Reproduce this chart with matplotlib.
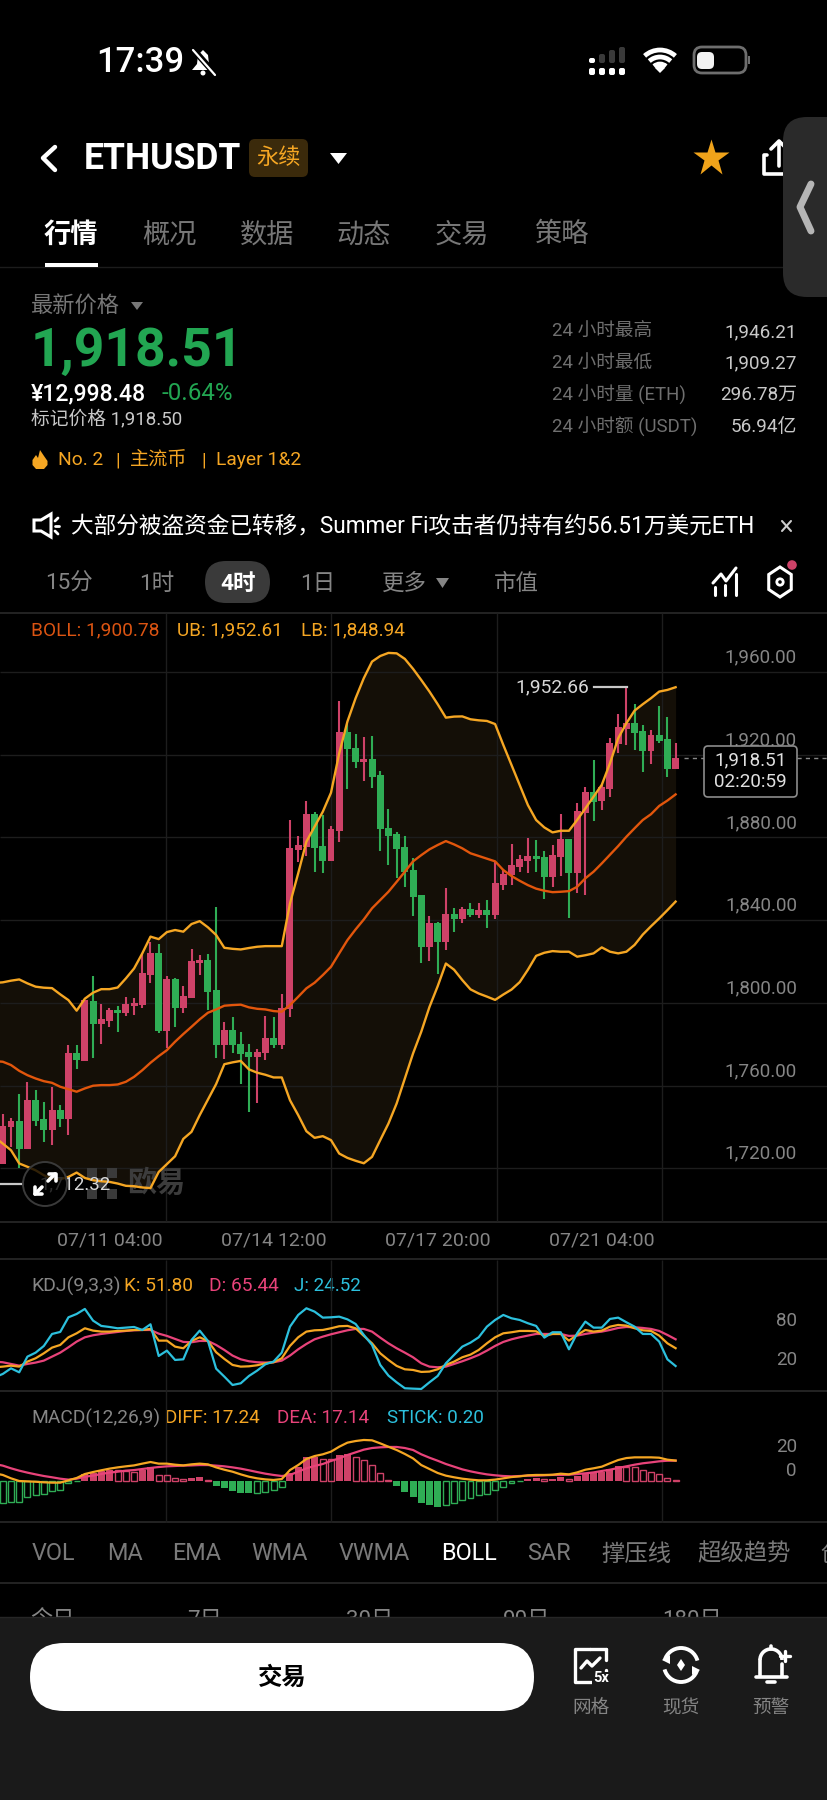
import numpy as np
import matplotlib
matplotlib.use('Agg')
import matplotlib.pyplot as plt
from matplotlib.patches import FancyBboxPatch, Arc, Circle, Polygon, Rectangle

plt.rcParams['font.family'] = ['Roboto', 'Noto Sans CJK SC', 'DejaVu Sans']

# velas 4h
open_ = [1722, 1739.7, 1743, 1729.4, 1752.9, 1743.7, 1738.4, 1748.2, 1743.9, 1775.8, 1772, 1801, 1789.7, 1791.3, 1796.3, 1794.9, 1798.6,
         1798.9, 1813.4, 1824, 1786.5, 1811.3, 1797.4, 1802.1, 1819.4, 1820.8, 1806.1, 1779.5, 1787, 1780.3, 1776.3, 1773.7, 1775.5,
         1783.2, 1779.5, 1796.8, 1873.9, 1875.3, 1891.3, 1875.8, 1868.7, 1883.2, 1931, 1923.4, 1916.5, 1918.1, 1910.2, 1884.6, 1881.6,
         1875.2, 1864.2, 1852.3, 1826.9, 1838.5, 1829.4, 1842.9, 1840.5, 1845.3, 1842.6, 1844.8, 1842.6, 1856.8, 1861.6, 1865.8, 1868.5,
         1870.8, 1870.5, 1861, 1870.6, 1879.2, 1862.6, 1891.9, 1901.8, 1897.6, 1903.3, 1925.1, 1932.3, 1935.2, 1931.3, 1922, 1929.4,
         1927.6, 1913.1]
high = [1746, 1744.5, 1755.7, 1761.8, 1757.8, 1751.8, 1759.2, 1750.5, 1779.5, 1779.5, 1801.3, 1812.8, 1799.2, 1797.4, 1798.4, 1802.6, 1802.4,
        1823.4, 1829.2, 1828.4, 1812.9, 1812.1, 1808.2, 1825.8, 1823.1, 1823.4, 1846.2, 1790.7, 1792.9, 1785.8, 1779.9, 1777.6, 1793.7,
        1792.9, 1804.4, 1888.4, 1880.6, 1897.7, 1892.4, 1890.8, 1885.6, 1945.8, 1935, 1929.8, 1928.4, 1929.2, 1912.3, 1893.6, 1882.4,
        1880.8, 1870.2, 1852.3, 1842.1, 1839.2, 1855.5, 1845.8, 1846.1, 1848.5, 1848.2, 1849.7, 1868.2, 1864.7, 1876.8, 1871.3, 1879.7,
        1878.7, 1873.4, 1876.3, 1891.3, 1879.2, 1896.8, 1904.5, 1917.5, 1906, 1927.9, 1939.7, 1952.66, 1944.4, 1934.4, 1931.8, 1943.4,
        1938.1, 1925.5]
low = [1722, 1730.3, 1720.3, 1729.4, 1740.3, 1732.6, 1731.1, 1740, 1736, 1767.8, 1772, 1773.4, 1780, 1788.4, 1785.8, 1793.7, 1794,
       1797.6, 1809.7, 1785.2, 1778.2, 1788.2, 1795.2, 1802.1, 1813.4, 1796.3, 1773.4, 1772.9, 1775.8, 1760.8, 1747.1, 1751.6, 1772.3,
       1778.2, 1777.6, 1793.2, 1868, 1871, 1863.4, 1863, 1868.7, 1878, 1903.2, 1913.7, 1907.3, 1904, 1873.5, 1866.4, 1860.2,
       1856.1, 1842.1, 1819.4, 1820.2, 1814, 1825.5, 1834.2, 1838.4, 1841.3, 1841.1, 1836.3, 1840.3, 1854.5, 1857.1, 1863.2, 1862.9,
       1863.4, 1850.2, 1856.1, 1861.3, 1841, 1852.9, 1852.1, 1888.1, 1893.2, 1899.4, 1920.6, 1924.7, 1922.3, 1911.6, 1915.4, 1925.5,
       1909.4, 1913.1]
close = [1740.5, 1743, 1729.5, 1752.9, 1743, 1738.4, 1748.2, 1743.9, 1775.8, 1772.3, 1801.3, 1789.7, 1792.1, 1796.3, 1794.9, 1799.4, 1800,
         1814.2, 1824, 1786.3, 1811.3, 1797.4, 1803.2, 1820.3, 1820.8, 1805.3, 1779.5, 1787, 1779.5, 1775.2, 1773.6, 1776.3, 1783.2,
         1779.5, 1797.6, 1875, 1876.3, 1891.3, 1875, 1868.7, 1884, 1931, 1922.6, 1916.5, 1918.1, 1909.4, 1883.9, 1880.6, 1874.3,
         1863.3, 1851.3, 1826.9, 1838.5, 1829.4, 1842.9, 1840.5, 1845.5, 1842.6, 1844.8, 1842.6, 1857.7, 1862.1, 1866.8, 1869.5, 1870.8,
         1869.5, 1861, 1871.6, 1879.2, 1862.6, 1892.6, 1901.7, 1897.3, 1904.5, 1925.8, 1933.4, 1935.2, 1930.4, 1922, 1929.5, 1926.8,
         1913.1, 1918.51]

# bandas de Bollinger, la primera entrada es la vela anterior que queda fuera de la pantalla
ub = [1809.6, 1809.9, 1810.7, 1811.3, 1809.4, 1807.8, 1807.3, 1807.1, 1804.1, 1801.3, 1796.2, 1802, 1804.9, 1806.6, 1806.6, 1807.4, 1811.8,
      1816.6, 1823.9, 1832, 1830.8, 1834.2, 1835.2, 1834.4, 1838.1, 1839.5, 1836.5, 1832.8, 1826.6, 1826.1, 1825.8, 1826.5, 1827.1,
      1827.4, 1827.4, 1827.4, 1848, 1862.6, 1877.9, 1885.2, 1892.4, 1901.6, 1920.6, 1936, 1947.3, 1957, 1965, 1967.7, 1969.2, 1969,
      1966.3, 1961.5, 1956.1, 1950.5, 1944.4, 1937.9, 1938.4, 1938.5, 1937.1, 1936.6, 1936.3, 1934.8, 1924.7, 1915, 1905.3, 1895.6,
      1888.4, 1884.8, 1882.4, 1883.2, 1883.2, 1888.4, 1894, 1899.7, 1905.4, 1915.8, 1927.9, 1935.2, 1941.3, 1944.4, 1947.3, 1950.5,
      1951.3, 1952.61]
mid = [1771.8, 1771.5, 1769.9, 1767.1, 1765, 1763.4, 1762.1, 1761.3, 1759.4, 1758.2, 1757, 1758.6, 1759.9, 1760.2, 1760.2, 1760.5, 1761.8,
       1764.2, 1767.4, 1771, 1774.2, 1777.1, 1781.2, 1784.9, 1788.4, 1792, 1795.2, 1796.8, 1798.6, 1798.9, 1799.1, 1797.8, 1797.1,
       1796.8, 1796, 1795.7, 1798.9, 1802.9, 1807, 1809.7, 1813.4, 1817.4, 1823.9, 1830.3, 1835.5, 1840.3, 1845.7, 1849.7, 1853.7, 1858.5,
       1863.4, 1868.4, 1871.4, 1874.2, 1876.3, 1878.2, 1876.6, 1874.7, 1872.3, 1871, 1869.7, 1868.4, 1864.2, 1861.3, 1859, 1856.9,
       1855.2, 1854.2, 1853.5, 1853.7, 1854, 1856.1, 1860.2, 1863.4, 1867.4, 1871.6, 1875.8, 1880.3, 1884.4, 1888.4, 1891.2, 1895.2,
       1897.8, 1900.78]
lb = [1735, 1731.9, 1728.7, 1722.3, 1720.7, 1719, 1716.6, 1715, 1714.7, 1715.8, 1717.9, 1715.3, 1714.2, 1713.7, 1713.4, 1712.6, 1711.5,
      1711.3, 1710.7, 1710.4, 1718.2, 1722, 1725.8, 1734.2, 1737.6, 1745.7, 1753.2, 1760.7, 1770.3, 1771.2, 1771.9, 1767.8, 1766.2,
      1765.2, 1763.9, 1763.9, 1752.9, 1745.7, 1737.9, 1734.7, 1735.5, 1733.6, 1727.1, 1725, 1723.6, 1722.4, 1725.5, 1733.6, 1741.6, 1751.3,
      1763.4, 1775.5, 1786, 1798, 1808, 1819, 1816, 1811, 1806.5, 1804.5, 1803, 1801.4, 1804, 1806.4, 1810, 1816,
      1822.7, 1824.2, 1825, 1824.7, 1824.7, 1822.3, 1823, 1823.9, 1826.8, 1824.7, 1823.9, 1824.7, 1828, 1833, 1837, 1840.8,
      1844.8, 1848.94]

kdj_k = [22.6, 23.6, 25.1, 23.6, 31.3, 36.4, 44, 52.7, 56.8, 68.5, 74.6, 82.3, 78.7, 77.2, 77.2, 78.2, 78.7,
         79.7, 79.7, 81.3, 63.4, 63.4, 54.2, 51.7, 62.9, 68.5, 62.9, 45.6, 35.4, 26.2, 23.6, 24.1, 25.7,
         28.7, 30.3, 36.4, 55.3, 68.5, 77.2, 79.2, 79.7, 82.3, 85.4, 85.9, 82.3, 70.6, 59.3, 44, 33.8, 24.7,
         19.5, 18.5, 15.5, 16, 19.5, 26.2, 31.3, 37.9, 42, 49.1, 59.3, 68.5, 74.6, 76.2, 78.2, 78.2,
         77.7, 70.6, 73.6, 73.6, 63.4, 72.1, 79.7, 77.2, 78.7, 84.8, 87.4, 86.4, 82.3, 79.2, 78.2, 71.1,
         59.3, 51.8]
kdj_d = [31.3, 30.3, 27.7, 25.1, 27.7, 29.8, 32.8, 38.9, 45, 53.2, 61.9, 68.5, 71.6, 73.6, 75.2, 76.7, 78.2,
         79.2, 79.7, 79.7, 74.1, 70.6, 66, 61.4, 60.9, 62.9, 62.9, 56.8, 49.1, 40.5, 34.8, 31.8, 30.3,
         29.8, 30.3, 32.8, 40.5, 50.1, 58.3, 65.4, 69.5, 73.1, 76.2, 79.2, 81.3, 81.3, 77.2, 68, 59.3, 51.7,
         45, 37.9, 28.7, 23.6, 22.6, 23.6, 27.7, 31.8, 36.4, 41.5, 48.1, 55.3, 61.4, 65.4, 68.5, 71.1,
         73.6, 73.6, 73.6, 73.6, 70.6, 71.1, 73.6, 75.7, 77.2, 79.7, 82.8, 84.3, 83.8, 82.8, 81.3, 78.2,
         72.1, 65.44]
kdj_j = [7.3, 12.4, 21, 14.9, 38.9, 45, 55.2, 73.6, 76.7, 99.1, 104.2, 111.9, 94, 85.9, 84.3, 82.3, 83.3,
         84.3, 79.7, 88.4, 39.9, 48.1, 33.8, 34.8, 64.4, 78.7, 62.9, 20.5, 8.3, -4.5, -1.9, 9.3, 17.5,
         27.2, 31.3, 45, 84.8, 102.7, 112.9, 107.8, 98.6, 99.1, 100.1, 96, 88.9, 72.1, 56.8, 26.2, 9.9, -0.4,
         -9.5, -10.1, -10.6, -0.4, 9.3, 28.7, 41.5, 54.2, 60.3, 68.5, 84.8, 95, 102.7, 97.6, 95, 90,
         85.9, 68, 76.2, 76.2, 50.1, 74.6, 92.5, 83.3, 83.3, 96.6, 98.6, 91.5, 84.8, 73.6, 73.6, 61.9,
         34.8, 24.52]

diff = [6.3, 4.9, 2, -0.3, -0.6, -0.9, -1.4, -1.7, -1.7, 0.3, 2.3, 5.7, 7.4, 8.9, 10.3, 11.4, 12.3,
        13.1, 14.6, 16, 14.6, 14.6, 13.7, 13.1, 14, 14.6, 14, 11.4, 9.4, 7.7, 5.4, 3.4, 2,
        1.1, 0.6, 1.4, 9.1, 13.4, 18.6, 21.1, 22.6, 24.9, 29.1, 32.6, 34, 34.9, 34.6, 32, 29.1, 26.3,
        22.9, 19.1, 13.4, 10, 6.6, 4.3, 2.9, 1.7, 0.9, 0.3, 0.3, 0.9, 2, 3.1, 3.7, 4.6,
        4.9, 4.9, 5.1, 6, 5.4, 7.1, 9.4, 10.6, 12, 14.9, 17.7, 19.4, 20, 20, 20, 19.7,
        18, 17.24]
dea = [14.3, 12.9, 10.6, 8.6, 6.9, 5.4, 4, 2.9, 1.7, 0.9, 1.7, 3.4, 4.3, 5.7, 6.9, 7.7, 8.6,
       9.1, 10, 10.9, 11.7, 12.3, 12.6, 12.9, 13.1, 13.4, 13.4, 12.9, 12.3, 11.4, 10.3, 8.9, 7.4,
       6, 4.9, 4, 4.9, 7.7, 10.6, 12.6, 14.3, 16.9, 19.1, 22, 24.3, 26.6, 28, 28.6, 28.9, 28.9,
       28, 26.3, 22.6, 19.7, 17.1, 14.3, 12, 9.7, 8, 6.6, 5.4, 4.6, 4, 3.7, 4, 4.3,
       4.3, 4.6, 4.9, 4.9, 5.1, 5.7, 6.3, 7.1, 8.3, 9.4, 10.9, 12.3, 13.7, 14.9, 15.7, 16.6,
       17.1, 17.14]
stick = [-19.4, -18, -17.9, -14.3, -12.3, -11.7, -8.9, -7.7, -2.3, -0.3, 5.7, 6.9, 8.3, 9.1, 9, 8.3, 7.7,
         9.1, 11.4, 4.9, 4.8, 2.6, 1.1, 2.3, 2.9, 0.6, -4.3, -6.6, -8.9, -10.3, -10.9, -10.8, -9.4,
         -8, -5.4, 6.3, 12, 20, 20.2, 18.3, 18.2, 22, 22.6, 20, 17.7, 13.4, 6.3, 0.6, -4.6, -9.4,
         -13.7, -19.4, -20.9, -22.3, -20.9, -18.9, -16.6, -14.9, -12.6, -11.1, -8, -5.1, -2.3, -0.6, 1.4, 2,
         1.4, 1.7, 2.9, 1.4, 4.3, 6, 6.9, 7.7, 10, 12.3, 12, 11.4, 9.1, 7.4, 5.7, 2.3, 0.2]

price_ticks = [1960, 1920, 1880, 1840, 1800, 1760, 1720]
date_idx = [13, 33, 53, 73]
date_labels = ['07/11 04:00', '07/14 12:00', '07/17 20:00', '07/21 04:00']
kdj_ticks = [80, 20]
macd_ticks = [20, 0]

tabs = ['行情', '概况', '数据', '动态', '交易', '策略']
intervals = ['15分', '1时', '4时', '1日', '更多', '市值']
stat_names = ['24 小时最高', '24 小时最低', '24 小时量 (ETH)', '24 小时额 (USDT)']
stat_values = ['1,946.21', '1,909.27', '296.78万', '56.94亿']
indicators = ['VOL', 'MA', 'EMA', 'WMA', 'VWMA', 'BOLL', 'SAR', '撑压线', '超级趋势', '创']
periods = ['今日', '7日', '30日', '90日', '180日']

PINK = '#CE4268'
GREEN = '#2FAD55'
ORANGE = '#F5A623'
DARKOR = '#E2560C'
KPINK = '#E8437A'
CYAN = '#2CC0DD'
GRIDC = '#1D1D1D'
GRAY = '#858585'

W, H = 828, 1800
fig = plt.figure(figsize=(W / 100, H / 100), dpi=100, facecolor='black')

# capa de interfaz en pixeles
ui = fig.add_axes([0, 0, 1, 1], zorder=0)
ui.set_xlim(0, W)
ui.set_ylim(H, 0)
ui.axis('off')


def txt(a, x, y, s, size=13.5, color='white', ha='left', weight='normal', z=5):
    # el centrado de matplotlib deja el texto un poco alto
    return a.text(x, y + 2, s, fontsize=size, color=color, ha=ha, va='center', fontweight=weight, zorder=z)


def rbox(a, x0, y0, x1, y1, r, fc, ec='none', lw=0, z=2):
    p = FancyBboxPatch((x0, y0), x1 - x0, y1 - y0, boxstyle='round,pad=0,rounding_size=%s' % r, fc=fc, ec=ec, lw=lw, zorder=z)
    a.add_patch(p)


def pl(a, xs, ys, c='white', lw=2, z=5):
    a.plot(xs, ys, color=c, lw=lw, zorder=z, solid_capstyle='round', solid_joinstyle='round')


def arc(a, x, y, r, t0, t1, c='white', lw=2.2, z=5):
    a.add_patch(Arc((x, y), 2 * r, 2 * r, theta1=t0, theta2=t1, color=c, lw=lw, zorder=z))


# barra de estado
txt(ui, 96, 60, '17:39', 25, weight='medium')
ui.add_patch(Polygon([[203, 50], [198, 55], [197, 64], [192, 70], [214, 70], [209, 64], [208, 55]], fc='white', zorder=5))
ui.add_patch(Circle((203, 73), 2.5, fc='white', zorder=5))
pl(ui, [192, 216], [48, 75], 'black', 4.5, 6)
pl(ui, [193, 215], [50, 75], 'white', 1.6, 7)
for k, xb in enumerate([592, 602, 612, 622]):
    top_y = [58, 54, 50, 47][k]
    c = 'white' if k == 0 else '#3A3A3A'
    rbox(ui, xb - 3, top_y, xb + 3, 63, 2, c)
    rbox(ui, xb - 3, 68, xb + 3, 75, 2, 'white')
for r in [9, 16, 23]:
    arc(ui, 660, 73, r, 228, 312, 'white', 3.4)
ui.add_patch(Polygon([[660, 73], [655, 68], [660, 64], [665, 68]], fc='white', zorder=5))
rbox(ui, 694, 47, 746, 73, 8, 'none', '#6E6E6E', 2)
rbox(ui, 697, 52, 714, 69, 5, '#F2F2F2')
ui.add_patch(Rectangle((748, 56), 2.5, 8, fc='#6E6E6E', zorder=3))

# cabecera
pl(ui, [55, 43, 55], [147, 158, 170], 'white', 3.2)
txt(ui, 84, 157, 'ETHUSDT', 25.6, weight='bold')
rbox(ui, 249, 139, 308, 177, 6, '#3B2A0B')
txt(ui, 278.5, 157, '永续', 16, ORANGE, ha='center')
ui.add_patch(Polygon([[330, 153], [347, 153], [338.5, 164]], fc='white', zorder=5))
ui.plot([711], [158], marker='*', ms=28, color='#F0A31A', mec='none', zorder=5)
pl(ui, [767, 764, 764, 783], [155, 155, 174, 174], 'white', 2.6)
pl(ui, [779, 779], [142, 166], 'white', 2.6)
pl(ui, [771, 779, 787], [149, 141, 149], 'white', 2.6)
rbox(ui, 783, 117, 850, 297, 24, '#2A2A2A', z=6)
pl(ui, [811, 800, 811], [184, 207, 231], '#B5B5B5', 5, 7)

tab_x = [71, 169, 267, 364, 462, 561]
for k, (t, xt) in enumerate(zip(tabs, tab_x)):
    if k == 0:
        txt(ui, xt, 233, t, 19.6, 'white', 'center', 'bold')
    else:
        txt(ui, xt, 233, t, 19.6, '#777777', 'center')
ui.add_patch(Rectangle((45, 263), 53, 4, fc='white', zorder=5))
ui.plot([0, 783], [267, 267], color='#1C1C1C', lw=1, zorder=1)

# bloque de precio
txt(ui, 31, 304, '最新价格', 16, '#777777')
ui.add_patch(Polygon([[131, 302], [143, 302], [137, 310]], fc='#777777', zorder=5))
txt(ui, 31, 349, '1,918.51', 38.5, '#22A652', weight='bold')
txt(ui, 31, 392, '¥12,998.48', 16.6, 'white', weight='medium')
txt(ui, 162, 392, '-0.64%', 17.4, '#22A652')
txt(ui, 31, 417, '标记价格 1,918.50', 13.5, '#C8C8C8')
ui.add_patch(Polygon([[40, 450], [44, 456], [47.5, 461], [47.5, 465], [44, 469], [36, 469], [32.5, 465], [32.5, 460], [36, 455], [38, 458]],
                     fc=ORANGE, zorder=5))
txt(ui, 58, 458, 'No. 2', 13.8, ORANGE)
txt(ui, 115, 458, '|', 13.8, ORANGE)
txt(ui, 130, 458, '主流币', 13.8, ORANGE)
txt(ui, 201, 458, '|', 13.8, ORANGE)
txt(ui, 216, 458, 'Layer 1&2', 13.9, ORANGE)
for yy, n, v in zip([330, 361, 393, 425], stat_names, stat_values):
    txt(ui, 552, yy, n, 13.4, '#6F6F6F')
    txt(ui, 797, yy, v, 13.6, '#C8C8C8', 'right')

# noticia
ui.add_patch(Polygon([[34, 520], [41, 520], [51, 514], [51, 537], [41, 531], [34, 531]], fc='none', ec='white', lw=2.2, zorder=5))
pl(ui, [55, 58], [521, 518], 'white', 2)
pl(ui, [55, 59], [526, 526], 'white', 2)
pl(ui, [55, 58], [531, 534], 'white', 2)
txt(ui, 71, 524, '大部分被盗资金已转移，Summer Fi攻击者仍持有约56.51万美元ETH', 16.3)
pl(ui, [782, 791], [521, 531], '#CCCCCC', 1.5)
pl(ui, [791, 782], [521, 531], '#CCCCCC', 1.5)

# periodos
rbox(ui, 205, 561, 270, 603, 21, '#3A3A3A')
int_x = [69, 157, 238, 318, 404, 516]
for k, (t, xt) in enumerate(zip(intervals, int_x)):
    if k == 2:
        txt(ui, xt, 582, t, 16.2, 'white', 'center', 'bold')
    else:
        txt(ui, xt, 582, t, 16.2, GRAY, 'center')
ui.add_patch(Polygon([[436, 578], [449, 578], [442.5, 588]], fc=GRAY, zorder=5))
pl(ui, [713, 721, 726, 736], [583, 574, 581, 568], 'white', 2.2)
for xb, yt in zip([715, 725, 736], [587, 585, 574]):
    pl(ui, [xb, xb], [yt, 595], 'white', 2.2)
ang = np.radians(np.arange(90, 450, 60))
ui.add_patch(Polygon(np.column_stack([780 + 13 * np.cos(ang), 582 + 15 * np.sin(ang)]), fc='none', ec='white', lw=2.2, zorder=5))
ui.add_patch(Circle((780, 582), 3.2, fc='none', ec='white', lw=2, zorder=5))
ui.add_patch(Circle((792, 565), 4.8, fc=PINK, zorder=6))

# separadores
for yy in [613, 1222, 1259, 1391, 1522, 1583]:
    ui.plot([0, W], [yy, yy], color='#2A2A2A', lw=1.2, zorder=1)

# leyendas e indicadores
txt(ui, 31, 628, 'BOLL: 1,900.78', 13.8, '#DB5412')
txt(ui, 177, 628, 'UB: 1,952.61', 13.6, ORANGE)
txt(ui, 301, 628, 'LB: 1,848.94', 13.7, ORANGE)
txt(ui, 31, 1284, 'KDJ(9,3,3)', 14, GRAY)
txt(ui, 124, 1284, 'K: 51.80', 13.7, ORANGE)
txt(ui, 209, 1284, 'D: 65.44', 13.8, KPINK)
txt(ui, 294, 1284, 'J: 24.52', 13.5, CYAN)
txt(ui, 31, 1416, 'MACD(12,26,9)', 13.8, GRAY)
txt(ui, 165, 1416, 'DIFF: 17.24', 13.6, ORANGE)
txt(ui, 277, 1416, 'DEA: 17.14', 13.6, KPINK)
txt(ui, 387, 1416, 'STICK: 0.20', 13.5, CYAN)

ind_x = [53, 125, 197, 280, 374, 469, 549, 636, 744, 832]
for t, xt in zip(indicators, ind_x):
    txt(ui, xt, 1552, t, 16.8, 'white' if t == 'BOLL' else '#7A7A7A', 'center')
for t, xt in zip(periods, [52, 205, 370, 527, 692]):
    txt(ui, xt, 1618, t, 16, GRAY, 'center', z=1)

# barra inferior
ui.add_patch(Rectangle((0, 1617), W, H - 1617, fc='#1A1A1A', ec='none', zorder=3))
ui.plot([0, W], [1617, 1617], color='#262626', lw=1, zorder=3)
rbox(ui, 30, 1643, 534, 1711, 34, 'white', z=4)
txt(ui, 282, 1676, '交易', 17.6, 'black', 'center', 'bold')
for t, xt in zip(['网格', '现货', '预警'], [591, 681, 771]):
    txt(ui, xt, 1706, t, 13.4, GRAY, 'center')
pl(ui, [590, 575, 575, 606, 606], [1649, 1649, 1682, 1682, 1670], 'white', 2.4)
pl(ui, [606, 606], [1649, 1660], 'white', 2.4)
pl(ui, [590, 606], [1649, 1649], 'white', 2.4)
pl(ui, [581, 587, 592, 600], [1668, 1661, 1666, 1658], 'white', 2.4)
ui.add_patch(Rectangle((592, 1672), 18, 13, fc='#1A1A1A', zorder=5))
txt(ui, 601, 1676, '5x', 10.5, 'white', 'center', 'bold', z=6)
arc(ui, 681, 1665, 17, 195, 345, 'white', 2.8)
arc(ui, 681, 1665, 17, 15, 165, 'white', 2.8)
ui.add_patch(Polygon([[662, 1660], [670, 1655], [670, 1664]], fc='white', zorder=5))
ui.add_patch(Polygon([[700, 1670], [692, 1675], [692, 1666]], fc='white', zorder=5))
ui.add_patch(Polygon([[681, 1659], [685, 1665], [681, 1671], [677, 1665]], fc='white', zorder=5))
arc(ui, 771, 1660, 11, 180, 360, 'white', 2.6)
pl(ui, [760, 760], [1660, 1676], 'white', 2.6)
pl(ui, [782, 782], [1664, 1676], 'white', 2.6)
pl(ui, [756, 787], [1677, 1677], 'white', 2.6)
pl(ui, [767, 775], [1682, 1682], 'white', 2.6)
pl(ui, [771, 771], [1646, 1649], 'white', 2.6)
pl(ui, [785, 785], [1651, 1661], 'white', 2.4)
pl(ui, [780, 790], [1656, 1656], 'white', 2.4)


# graficas: eje x en indice de vela
X0 = 2.8
DX = 8.205
xlim = (-X0 / DX, (W - X0) / DX)
grid_px = [165.6, 331.2, 496.8, 662.4]
grid_i = [(g - X0) / DX for g in grid_px]


def chart_axes(y0, y1, ymin, ymax, z):
    a = fig.add_axes([0, 1 - y1 / H, 1, (y1 - y0) / H], zorder=z)
    a.set_xlim(*xlim)
    a.set_ylim(ymin, ymax)
    a.patch.set_alpha(0)
    for s in a.spines.values():
        s.set_visible(False)
    a.set_yticks([])
    a.set_xticks([])
    a.vlines(grid_i, ymin, ymax, color=GRIDC, lw=1, zorder=1.5)
    return a


idx = np.arange(len(close))
idx2 = np.arange(-1, len(close))

# velas y BOLL
ax = chart_axes(613, 1222, 1694, 1988.5, 2)
ax.fill_between(idx2, lb, ub, color='#140F07', lw=0, zorder=1)
ax.hlines(price_ticks, *xlim, color=GRIDC, lw=1, zorder=1.5)

# marca de agua, por encima del relleno y debajo de las lineas
for xb, yb in [(87, 1168), (87, 1189), (107, 1168), (107, 1189), (97, 1178)]:
    ax.add_patch(Rectangle((xb, yb), 10, 10, fc='#3A3A3A', transform=ui.transData, zorder=1.7))
ax.text(127, 1184, '欧易', fontsize=21, color='#3C3C3C', fontweight='bold', va='center', transform=ui.transData, zorder=1.7)

colores = [PINK if c >= o else GREEN for o, c in zip(open_, close)]
ax.vlines(idx, low, high, color=colores, lw=1.5, zorder=3)
body_low = np.minimum(open_, close)
body_h = np.maximum(np.abs(np.array(close) - np.array(open_)), 0.8)
ax.bar(idx, body_h, bottom=body_low, width=0.85, color=colores, zorder=3)
ax.plot(idx2, ub, color=ORANGE, lw=1.7, zorder=4)
ax.plot(idx2, lb, color=ORANGE, lw=1.7, zorder=4)
ax.plot(idx2, mid, color=DARKOR, lw=1.7, zorder=4)
for p in price_ticks:
    ax.annotate(format(p, ',.2f'), (797 / W, p), xycoords=ax.get_yaxis_transform(), xytext=(0, 10.4), textcoords='offset points',
                ha='right', va='center', fontsize=13.6, color=GRAY, zorder=5)
ax.set_xticks(date_idx)
ax.set_xticklabels(date_labels, fontsize=14, color=GRAY)
ax.tick_params(axis='x', length=0, pad=6.5)

# maximo y minimo
imax = int(np.argmax(high))
ax.plot([imax + 0.1, 72.0], [high[imax], high[imax]], color='#C8C8C8', lw=1.6, zorder=5)
ax.text(71.4, high[imax], format(high[imax], ',.2f'), fontsize=13.9, color='#D8D8D8', ha='right', va='center', zorder=5)

# KDJ
ax_k = chart_axes(1260, 1391, -13.7, 186.8, 2)
ax_k.plot(idx2, kdj_d, color=KPINK, lw=1.6, zorder=3)
ax_k.plot(idx2, kdj_k, color=ORANGE, lw=1.6, zorder=3.5)
ax_k.plot(idx2, kdj_j, color=CYAN, lw=1.6, zorder=4)
for p in kdj_ticks:
    ax_k.annotate(str(p), (797 / W, p), xycoords=ax_k.get_yaxis_transform(), xytext=(0, 6.3), textcoords='offset points',
                  ha='right', va='center', fontsize=13.6, color=GRAY)

# MACD
ax_m = chart_axes(1391, 1523, -36.3, 76.9, 2)
stick = np.array(stick)
for i, s in zip(idx, stick):
    c = PINK if s >= 0 else GREEN
    hueca = i == 0 or abs(s) < abs(stick[i - 1])
    if hueca:
        ax_m.bar(i, s, width=0.72, facecolor='none', edgecolor=c, lw=1, zorder=3)
    else:
        ax_m.bar(i, s, width=0.85, color=c, zorder=3)
ax_m.plot(idx2, dea, color=KPINK, lw=1.6, zorder=4)
ax_m.plot(idx2, diff, color=ORANGE, lw=1.6, zorder=4.5)
for p in macd_ticks:
    ax_m.annotate(str(p), (797 / W, p), xycoords=ax_m.get_yaxis_transform(), xytext=(0, 7.1), textcoords='offset points',
                  ha='right', va='center', fontsize=13.6, color=GRAY)

# capa superior: etiqueta de precio y boton
top = fig.add_axes([0, 0, 1, 1], zorder=5)
top.set_xlim(0, W)
top.set_ylim(H, 0)
top.axis('off')
last_y = 672 + (1960 - close[-1]) * 2.0675
top.plot([684, 704], [last_y, last_y], color='#888888', lw=1, ls=(0, (3, 3)))
top.plot([797, W], [last_y, last_y], color='#888888', lw=1, ls=(0, (3, 3)))
rbox(top, 704, 746, 797, 797, 4, 'black', '#8C8C8C', 1.2)
txt(top, 750.5, 758, format(close[-1], ',.2f'), 13.6, '#E0E0E0', 'center')
txt(top, 750.5, 780, '02:20:59', 13.6, '#E0E0E0', 'center')

low_y = 1184
top.plot([0, 23], [low_y, low_y], color='#C8C8C8', lw=1.6)
txt(top, 40, low_y - 2, '1,712.32', 13.4, '#D8D8D8')
top.add_patch(Circle((45, 1184), 22, fc=(0, 0, 0, 0.8), ec='#3A3A3A', lw=1.4, zorder=6))
pl(top, [48, 55], [1181, 1174], 'white', 2.6, 7)
pl(top, [49, 56, 56], [1174, 1174, 1181], 'white', 2.6, 7)
pl(top, [42, 35], [1187, 1194], 'white', 2.6, 7)
pl(top, [35, 35, 42], [1187, 1194, 1194], 'white', 2.6, 7)

fig.savefig('out.png', dpi=100, facecolor='black')
